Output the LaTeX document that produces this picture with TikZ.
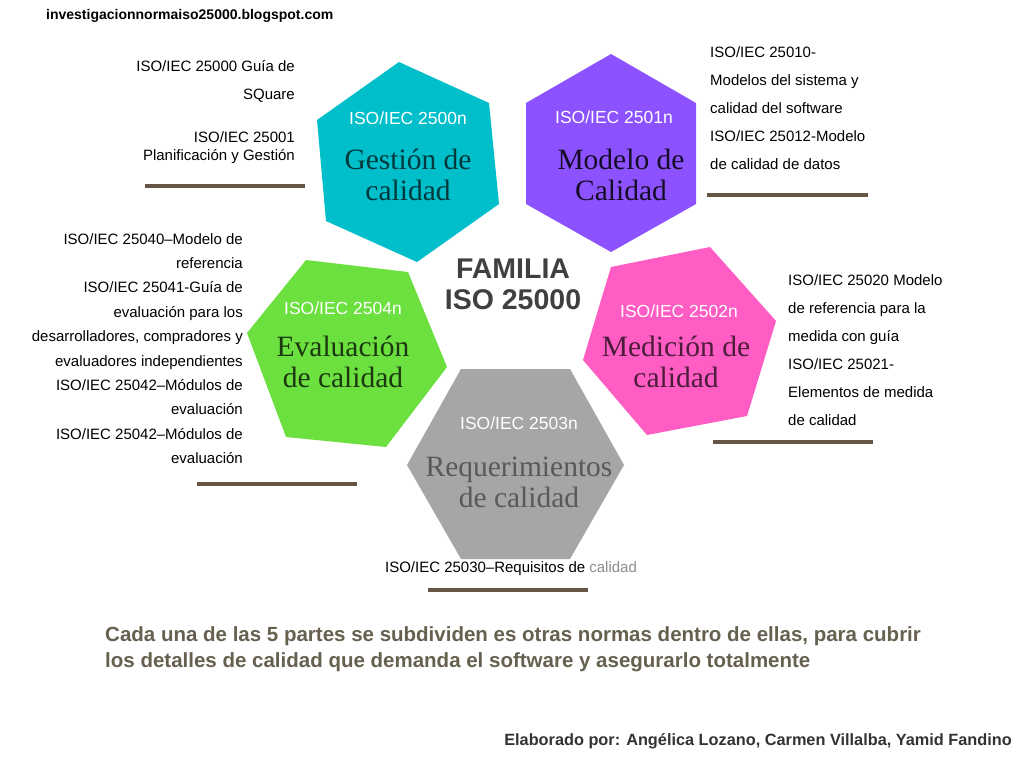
\documentclass[tikz,border=0pt]{standalone}
\usepackage{fontspec}
\setmainfont{Liberation Sans}
\newfontfamily\titlefont{Liberation Serif}
\begin{document}
\begin{tikzpicture}[x=1pt,y=-1pt,
  lab/.style={text=white,font=\fontsize{17.5}{20}\selectfont},
  ttl/.style={align=center,font=\titlefont\fontsize{29.5}{31}\selectfont},
  side/.style={font=\fontsize{15}{28}\selectfont,inner sep=0pt},
  rule/.style={line width=3.5pt,draw=black!55!brown!60!gray}]
\useasboundingbox (0,0) rectangle (1024,768);
\fill[white] (0,0) rectangle (1024,768);
\definecolor{cy}{HTML}{00BFCB}\definecolor{pu}{HTML}{8C52FF}\definecolor{gr}{HTML}{6BE03E}
\definecolor{pk}{HTML}{FF5CC4}\definecolor{gy}{HTML}{A6A6A6}\definecolor{br}{HTML}{66604F}
\fill[cy] (399,62)--(489,103)--(499,204)--(417,262)--(326,221)--(317,120)--cycle;
\fill[pu] (611,54)--(696,103)--(696,204)--(611,252)--(526,204)--(526,103)--cycle;
\fill[gr] (306,260)--(408,272)--(447,367)--(386,447)--(286,437)--(247,333)--cycle;
\fill[pk] (710,247)--(776,321)--(747,416)--(647,435)--(583,360)--(611,267)--cycle;
\fill[gy] (461,369)--(570,369)--(624,465)--(570,559)--(461,559)--(407,465)--cycle;
\node[lab] (l1) at (408,118) {ISO/IEC 2500n};
\node[ttl,text=black!70!cy] (t1) at (408,175) {Gestión de\\calidad};
\node[lab] (l2) at (614,117) {ISO/IEC 2501n};
\node[ttl,text=black!85!pu] (t2) at (621,175) {Modelo de\\Calidad};
\node[lab] (l4) at (343,308) {ISO/IEC 2504n};
\node[ttl,text=black!75!gr] (t4) at (343,362) {Evaluación\\de calidad};
\node[lab] (l3) at (679,311) {ISO/IEC 2502n};
\node[ttl,text=black!70!pk] (t3) at (676,362) {Medición de\\calidad};
\node[lab] (l5) at (519,423) {ISO/IEC 2503n};
\node[ttl,text=black!65] (t5) at (519,482) {Requerimientos\\de calidad};
\node[font=\bfseries\fontsize{28.5}{31}\selectfont,text=black!75,align=center] (fam) at (513,284) {FAMILIA\\ISO 25000};
\node[side,anchor=north east,align=right] (s1) at (295,60) {ISO/IEC 25000 Guía de\\SQuare};
\node[side,anchor=north east,align=right,font=\fontsize{15}{18}\selectfont] (s1b) at (295,131) {ISO/IEC 25001\\Planificación y Gestión};
\node[side,anchor=north west,align=left] (s2) at (710,46) {ISO/IEC 25010-\\Modelos del sistema y\\calidad del software\\ISO/IEC 25012-Modelo\\de calidad de datos};
\node[side,anchor=north east,align=right,font=\fontsize{15}{24.4}\selectfont] (s4) at (243,233) {ISO/IEC 25040–Modelo de\\referencia\\ISO/IEC 25041-Guía de\\evaluación para los\\desarrolladores, compradores y\\evaluadores independientes\\ISO/IEC 25042–Módulos de\\evaluación\\ISO/IEC 25042–Módulos de\\evaluación};
\node[side,anchor=north west,align=left] (s3) at (788,274) {ISO/IEC 25020 Modelo\\de referencia para la\\medida con guía\\ISO/IEC 25021-\\Elementos de medida\\de calidad};
\node[side] (s5) at (511,569) {ISO/IEC 25030–Requisitos de \textcolor{black!45}{calidad}};
\draw[rule] (145,186)--(305,186);
\draw[rule] (707,195)--(868,195);
\draw[rule] (197,484)--(357,484);
\draw[rule] (713,442)--(873,442);
\draw[rule] (428,590)--(588,590);
\node[anchor=north west,font=\bfseries\fontsize{14}{16}\selectfont,inner sep=0pt] (hd) at (46,9) {investigacionnormaiso25000.blogspot.com};
\node[anchor=north west,align=left,text=br,font=\bfseries\fontsize{20.5}{26}\selectfont,inner sep=0pt] (par) at (105,626) {Cada una de las 5 partes se subdividen es otras normas dentro de ellas, para cubrir\\los detalles de calidad que demanda el software y asegurarlo totalmente};
\node[anchor=east,font=\bfseries\fontsize{16.3}{18}\selectfont,text=black!80,inner sep=0pt] (ft) at (1012,741) {Elaborado por: Angélica Lozano, Carmen Villalba, Yamid Fandino};
\end{tikzpicture}
\end{document}
